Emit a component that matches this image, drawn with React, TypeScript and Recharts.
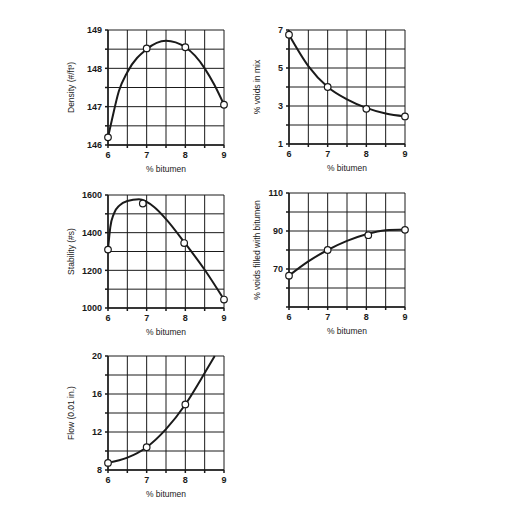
import React from "react";
import { ComposedChart, Line, XAxis, YAxis, CartesianGrid, Label } from "recharts";

// x grid / ticks shared by all panels
const bitumenTicks = [6, 6.5, 7, 7.5, 8, 8.5, 9];
const bitumenLabels = [6, 7, 8, 9];

// Density
const densityPoints = [
  { x: 6, y: 146.2 },
  { x: 7, y: 148.52 },
  { x: 8, y: 148.55 },
  { x: 9, y: 147.05 },
];
const densityCurve = [
  { x: 6, y: 146.2 },
  { x: 6.1, y: 146.65 },
  { x: 6.28, y: 147.4 },
  { x: 6.5, y: 147.9 },
  { x: 7, y: 148.5 },
  { x: 7.5, y: 148.72 },
  { x: 8, y: 148.55 },
  { x: 8.25, y: 148.33 },
  { x: 8.5, y: 148.0 },
  { x: 8.75, y: 147.57 },
  { x: 9, y: 147.05 },
];
const densityTicks = [146, 146.5, 147, 147.5, 148, 148.5, 149];
const densityLabels = [146, 147, 148, 149];

// % voids in mix
const voidsPoints = [
  { x: 6, y: 6.75 },
  { x: 7, y: 4.0 },
  { x: 8, y: 2.85 },
  { x: 9, y: 2.45 },
];
const voidsCurve = [
  { x: 6, y: 6.75 },
  { x: 6.5, y: 5.1 },
  { x: 7, y: 4.0 },
  { x: 7.5, y: 3.35 },
  { x: 8, y: 2.9 },
  { x: 8.5, y: 2.6 },
  { x: 9, y: 2.45 },
];
const voidsTicks = [1, 2, 3, 4, 5, 6, 7];
const voidsLabels = [1, 3, 5, 7];

// Stability
const stabilityPoints = [
  { x: 6, y: 1310 },
  { x: 6.9, y: 1555 },
  { x: 7.97, y: 1345 },
  { x: 9, y: 1045 },
];
const stabilityCurve = [
  { x: 6, y: 1310 },
  { x: 6.06, y: 1430 },
  { x: 6.15, y: 1500 },
  { x: 6.3, y: 1545 },
  { x: 6.5, y: 1568 },
  { x: 6.8, y: 1577 },
  { x: 7.2, y: 1535 },
  { x: 7.5, y: 1472 },
  { x: 8, y: 1342 },
  { x: 8.5, y: 1203 },
  { x: 9, y: 1045 },
];
const stabilityTicks = [1000, 1100, 1200, 1300, 1400, 1500, 1600];
const stabilityLabels = [1000, 1200, 1400, 1600];

// % voids filled with bitumen
const vfbPoints = [
  { x: 6, y: 66.5 },
  { x: 7, y: 80 },
  { x: 8.05, y: 87.8 },
  { x: 9, y: 90.6 },
];
const vfbCurve = [
  { x: 6, y: 66.5 },
  { x: 6.5, y: 74 },
  { x: 7, y: 80 },
  { x: 7.5, y: 84.8 },
  { x: 8, y: 88.3 },
  { x: 8.5, y: 90.4 },
  { x: 9, y: 90.8 },
];
const vfbTicks = [50, 60, 70, 80, 90, 100, 110];
const vfbLabels = [70, 90, 110];

// Flow
const flowPoints = [
  { x: 6, y: 8.75 },
  { x: 7, y: 10.4 },
  { x: 8, y: 14.9 },
];
const flowCurve = [
  { x: 6, y: 8.75 },
  { x: 6.5, y: 9.3 },
  { x: 7, y: 10.4 },
  { x: 7.5, y: 12.3 },
  { x: 8, y: 14.9 },
  { x: 8.5, y: 18.2 },
  { x: 8.76, y: 20 },
];
const flowTicks = [8, 10, 12, 14, 16, 18, 20];
const flowLabels = [8, 12, 16, 20];

const INK = "#1a1a1a";
const FONT = "'Liberation Sans', Arial, sans-serif";

type Pt = { x: number; y: number };

function Panel(props: {
  left: number; top: number; w: number; h: number;
  curve: Pt[]; points: Pt[];
  yTicks: number[]; yLabels: number[];
  yTitle: string; yTitleX: number;
}) {
  const { left, top, w, h, curve, points, yTicks, yLabels, yTitle, yTitleX } = props;
  const padL = 50, padT = 8, padR = 12, padB = 35;
  const tickStyle = { fill: INK, fontSize: 9, fontWeight: 700, fontFamily: FONT };
  const titleStyle = { fill: INK, fontSize: 8.5, fontFamily: FONT };
  return (
    <div style={{ position: "absolute", left: left - padL, top: top - padT }}>
      <ComposedChart width={w + padL + padR} height={h + padT + padB}
        margin={{ top: padT, right: padR, left: 0, bottom: 0 }}>
        <CartesianGrid stroke={INK} strokeWidth={1} />
        <XAxis type="number" dataKey="x" domain={[6, 9]} ticks={bitumenTicks}
          tickFormatter={(v: number) => (bitumenLabels.includes(v) ? String(v) : "")}
          height={padB} tickSize={3} tickMargin={4} stroke={INK} strokeWidth={1.5}
          tick={tickStyle} interval={0}>
          <Label value="% bitumen" position="insideBottom" offset={8} fill={INK}
            style={titleStyle} />
        </XAxis>
        <YAxis type="number" dataKey="y" domain={[yTicks[0], yTicks[yTicks.length - 1]]}
          ticks={yTicks} tickFormatter={(v: number) => (yLabels.includes(v) ? String(v) : "")}
          width={padL} tickSize={3} tickMargin={3} stroke={INK} strokeWidth={1.5}
          tick={tickStyle} interval={0}>
          <Label value={yTitle} angle={-90} position="insideLeft" offset={yTitleX} fill={INK}
            style={{ ...titleStyle, textAnchor: "middle" }} />
        </YAxis>
        <Line data={curve} dataKey="y" type="monotone" stroke={INK} strokeWidth={2}
          dot={false} activeDot={false} isAnimationActive={false} />
        <Line data={points} dataKey="y" stroke="none" legendType="none"
          dot={{ r: 3.3, fill: "#fff", stroke: INK, strokeWidth: 1.2 }}
          activeDot={false} isAnimationActive={false} />
      </ComposedChart>
    </div>
  );
}

export default function App() {
  return (
    <div style={{ position: "absolute", left: 0, top: 0, width: 514, height: 509, background: "#fff" }}>
      <Panel left={108} top={30} w={116} h={115} curve={densityCurve} points={densityPoints}
        yTicks={densityTicks} yLabels={densityLabels} yTitle="Density (#/ft³)" yTitleX={13} />
      <Panel left={289} top={30} w={116} h={114} curve={voidsCurve} points={voidsPoints}
        yTicks={voidsTicks} yLabels={voidsLabels} yTitle="% voids in mix" yTitleX={18} />
      <Panel left={108} top={195} w={116} h={113} curve={stabilityCurve} points={stabilityPoints}
        yTicks={stabilityTicks} yLabels={stabilityLabels} yTitle="Stability (#s)" yTitleX={13} />
      <Panel left={289} top={193} w={116} h={114} curve={vfbCurve} points={vfbPoints}
        yTicks={vfbTicks} yLabels={vfbLabels} yTitle="% voids filled with bitumen" yTitleX={18} />
      <Panel left={108} top={356} w={116} h={114} curve={flowCurve} points={flowPoints}
        yTicks={flowTicks} yLabels={flowLabels} yTitle="Flow (0.01 in.)" yTitleX={13} />
    </div>
  );
}
